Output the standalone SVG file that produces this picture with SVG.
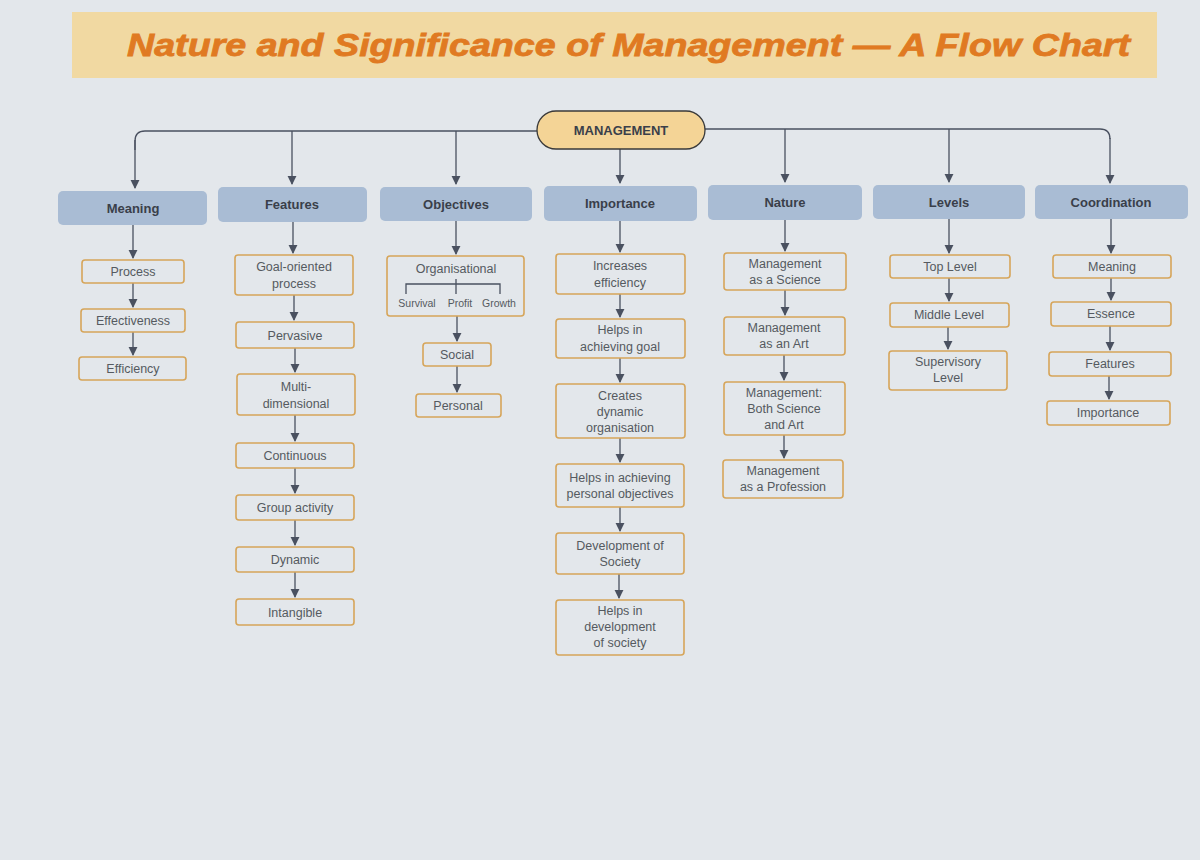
<svg xmlns="http://www.w3.org/2000/svg" width="1200" height="860" viewBox="0 0 1200 860">
<defs>
<marker id="ah" viewBox="0 0 10 10" refX="9" refY="5" markerWidth="7" markerHeight="7" orient="auto"><path d="M0,0 L10,5 L0,10 z" fill="#4a5160"/></marker>
<style>
.hd{fill:#a9bcd4;stroke:none}
.bx{fill:none;stroke:#d6a55a;stroke-width:1.6}
.ht{font-family:"Liberation Sans",Arial,sans-serif;font-size:13px;font-weight:bold;fill:#3a3f4a;text-anchor:middle}
.t{font-family:"Liberation Sans",Arial,sans-serif;font-size:12.5px;fill:#555a60;text-anchor:middle}
.s{font-family:"Liberation Sans",Arial,sans-serif;font-size:10.5px;fill:#555a60;text-anchor:middle}
.c{fill:none;stroke:#4a5160;stroke-width:1.3;marker-end:url(#ah)}
.l{fill:none;stroke:#4a5160;stroke-width:1.3}
</style>
</defs>
<rect width="1200" height="860" fill="#e3e7eb"/>
<rect x="72" y="12" width="1085" height="66" fill="#f1d9a2"/>
<text x="127" y="56" textLength="1003" lengthAdjust="spacingAndGlyphs" font-family="Liberation Sans,Arial,sans-serif" font-size="32" font-weight="bold" font-style="italic" fill="#e07a22" stroke="#e07a22" stroke-width="0.8">Nature and Significance of Management — A Flow Chart</text>

<g id="connectors">
<path class="l" d="M537,131 H145 Q135,131 135,141 V150"/>
<path class="c" d="M135,140 V188"/>
<path class="c" d="M292,131 V184"/>
<path class="c" d="M456,131 V184"/>
<path class="l" d="M705,129 H1100 Q1110,129 1110,139"/>
<path class="c" d="M1110,138 V183"/>
<path class="c" d="M620,149 V183"/>
<path class="c" d="M785,129 V182"/>
<path class="c" d="M949,129 V182"/>
<path class="c" d="M133,225 V258"/><path class="c" d="M133,283 V307"/><path class="c" d="M133,332 V355"/>
<path class="c" d="M293,222 V253"/><path class="c" d="M294,295 V320"/><path class="c" d="M295,348 V372"/><path class="c" d="M295,415 V441"/><path class="c" d="M295,468 V493"/><path class="c" d="M295,520 V545"/><path class="c" d="M295,572 V597"/>
<path class="c" d="M456,221 V254"/><path class="c" d="M457,316 V341"/><path class="c" d="M457,366 V392"/>
<path class="c" d="M620,221 V252"/><path class="c" d="M620,294 V317"/><path class="c" d="M620,358 V382"/><path class="c" d="M620,438 V462"/><path class="c" d="M620,507 V531"/><path class="c" d="M619,574 V598"/>
<path class="c" d="M785,220 V251"/><path class="c" d="M785,290 V315"/><path class="c" d="M784,355 V380"/><path class="c" d="M784,435 V458"/>
<path class="c" d="M949,219 V253"/><path class="c" d="M949,278 V301"/><path class="c" d="M948,327 V349"/>
<path class="c" d="M1111,219 V253"/><path class="c" d="M1111,278 V300"/><path class="c" d="M1110,326 V350"/><path class="c" d="M1109,376 V399"/>
</g>

<g id="management"><rect x="537" y="111" width="168" height="38" rx="19" fill="#f4d496" stroke="#3a3a3a" stroke-width="1.3"/><text x="621" y="135" class="ht" font-size="14">MANAGEMENT</text></g>

<g id="h-meaning"><rect class="hd" x="58" y="191" width="149" height="34" rx="5"/><text class="ht" x="133" y="213">Meaning</text></g>
<g id="h-features"><rect class="hd" x="218" y="187" width="149" height="35" rx="5"/><text class="ht" x="292" y="209">Features</text></g>
<g id="h-objectives"><rect class="hd" x="380" y="187" width="152" height="34" rx="5"/><text class="ht" x="456" y="209">Objectives</text></g>
<g id="h-importance"><rect class="hd" x="544" y="186" width="153" height="35" rx="5"/><text class="ht" x="620" y="208">Importance</text></g>
<g id="h-nature"><rect class="hd" x="708" y="185" width="154" height="35" rx="5"/><text class="ht" x="785" y="207">Nature</text></g>
<g id="h-levels"><rect class="hd" x="873" y="185" width="152" height="34" rx="5"/><text class="ht" x="949" y="207">Levels</text></g>
<g id="h-coordination"><rect class="hd" x="1035" y="185" width="153" height="34" rx="5"/><text class="ht" x="1111" y="207">Coordination</text></g>

<g id="m1"><rect class="bx" x="82" y="260" width="102" height="23" rx="3"/><text class="t" x="133" y="276">Process</text></g>
<g id="m2"><rect class="bx" x="81" y="309" width="104" height="23" rx="3"/><text class="t" x="133" y="325">Effectiveness</text></g>
<g id="m3"><rect class="bx" x="79" y="357" width="107" height="23" rx="3"/><text class="t" x="133" y="373">Efficiency</text></g>

<g id="f1"><rect class="bx" x="235" y="255" width="118" height="40" rx="3"/><text class="t" x="294" y="271">Goal-oriented</text><text class="t" x="294" y="288">process</text></g>
<g id="f2"><rect class="bx" x="236" y="322" width="118" height="26" rx="3"/><text class="t" x="295" y="340">Pervasive</text></g>
<g id="f3"><rect class="bx" x="237" y="374" width="118" height="41" rx="3"/><text class="t" x="296" y="391">Multi-</text><text class="t" x="296" y="408">dimensional</text></g>
<g id="f4"><rect class="bx" x="236" y="443" width="118" height="25" rx="3"/><text class="t" x="295" y="460">Continuous</text></g>
<g id="f5"><rect class="bx" x="236" y="495" width="118" height="25" rx="3"/><text class="t" x="295" y="512">Group activity</text></g>
<g id="f6"><rect class="bx" x="236" y="547" width="118" height="25" rx="3"/><text class="t" x="295" y="564">Dynamic</text></g>
<g id="f7"><rect class="bx" x="236" y="599" width="118" height="26" rx="3"/><text class="t" x="295" y="617">Intangible</text></g>

<g id="o1"><rect class="bx" x="387" y="256" width="137" height="60" rx="3"/><text class="t" x="456" y="273">Organisational</text>
<path class="l" d="M406,294 V284 H500 V294 M456,279 V294" stroke-width="1"/>
<text class="s" x="417" y="307">Survival</text><text class="s" x="460" y="307">Profit</text><text class="s" x="499" y="307">Growth</text></g>
<g id="o2"><rect class="bx" x="423" y="343" width="68" height="23" rx="3"/><text class="t" x="457" y="359">Social</text></g>
<g id="o3"><rect class="bx" x="416" y="394" width="85" height="23" rx="3"/><text class="t" x="458" y="410">Personal</text></g>

<g id="i1"><rect class="bx" x="556" y="254" width="129" height="40" rx="3"/><text class="t" x="620" y="270">Increases</text><text class="t" x="620" y="287">efficiency</text></g>
<g id="i2"><rect class="bx" x="556" y="319" width="129" height="39" rx="3"/><text class="t" x="620" y="334">Helps in</text><text class="t" x="620" y="351">achieving goal</text></g>
<g id="i3"><rect class="bx" x="556" y="384" width="129" height="54" rx="3"/><text class="t" x="620" y="400">Creates</text><text class="t" x="620" y="416">dynamic</text><text class="t" x="620" y="432">organisation</text></g>
<g id="i4"><rect class="bx" x="556" y="464" width="128" height="43" rx="3"/><text class="t" x="620" y="482">Helps in achieving</text><text class="t" x="620" y="498">personal objectives</text></g>
<g id="i5"><rect class="bx" x="556" y="533" width="128" height="41" rx="3"/><text class="t" x="620" y="550">Development of</text><text class="t" x="620" y="566">Society</text></g>
<g id="i6"><rect class="bx" x="556" y="600" width="128" height="55" rx="3"/><text class="t" x="620" y="615">Helps in</text><text class="t" x="620" y="631">development</text><text class="t" x="620" y="647">of society</text></g>

<g id="n1"><rect class="bx" x="724" y="253" width="122" height="37" rx="3"/><text class="t" x="785" y="268">Management</text><text class="t" x="785" y="284">as a Science</text></g>
<g id="n2"><rect class="bx" x="724" y="317" width="121" height="38" rx="3"/><text class="t" x="784" y="332">Management</text><text class="t" x="784" y="348">as an Art</text></g>
<g id="n3"><rect class="bx" x="724" y="382" width="121" height="53" rx="3"/><text class="t" x="784" y="397">Management:</text><text class="t" x="784" y="413">Both Science</text><text class="t" x="784" y="429">and Art</text></g>
<g id="n4"><rect class="bx" x="723" y="460" width="120" height="38" rx="3"/><text class="t" x="783" y="475">Management</text><text class="t" x="783" y="491">as a Profession</text></g>

<g id="l1"><rect class="bx" x="890" y="255" width="120" height="23" rx="3"/><text class="t" x="950" y="271">Top Level</text></g>
<g id="l2"><rect class="bx" x="890" y="303" width="119" height="24" rx="3"/><text class="t" x="949" y="319">Middle Level</text></g>
<g id="l3"><rect class="bx" x="889" y="351" width="118" height="39" rx="3"/><text class="t" x="948" y="366">Supervisory</text><text class="t" x="948" y="382">Level</text></g>

<g id="c1"><rect class="bx" x="1053" y="255" width="118" height="23" rx="3"/><text class="t" x="1112" y="271">Meaning</text></g>
<g id="c2"><rect class="bx" x="1051" y="302" width="120" height="24" rx="3"/><text class="t" x="1111" y="318">Essence</text></g>
<g id="c3"><rect class="bx" x="1049" y="352" width="122" height="24" rx="3"/><text class="t" x="1110" y="368">Features</text></g>
<g id="c4"><rect class="bx" x="1047" y="401" width="123" height="24" rx="3"/><text class="t" x="1108" y="417">Importance</text></g>
</svg>
